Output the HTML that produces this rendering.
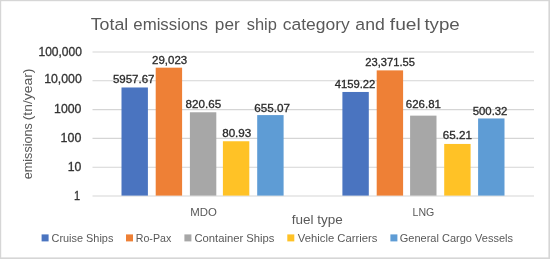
<!DOCTYPE html>
<html><head><meta charset="utf-8"><title>chart</title>
<style>
html,body{margin:0;padding:0;background:#fff;}
svg{display:block;font-family:"Liberation Sans",sans-serif;}
</style></head><body>
<svg width="550" height="259" viewBox="0 0 550 259">
<rect x="0" y="0" width="550" height="259" fill="#fff"/>
<rect x="0" y="0" width="550" height="1.2" fill="#d6d6d6"/>
<rect x="0" y="0" width="1.2" height="259" fill="#d6d6d6"/>
<rect x="548.4" y="0" width="1.6" height="259" fill="#d6d6d6"/>
<rect x="0" y="257.4" width="550" height="1.6" fill="#d6d6d6"/>

<line x1="92.5" x2="534" y1="52.00" y2="52.00" stroke="#d5d5d5" stroke-width="1.1"/>
<line x1="92.5" x2="534" y1="80.80" y2="80.80" stroke="#d5d5d5" stroke-width="1.1"/>
<line x1="92.5" x2="534" y1="109.60" y2="109.60" stroke="#d5d5d5" stroke-width="1.1"/>
<line x1="92.5" x2="534" y1="138.40" y2="138.40" stroke="#d5d5d5" stroke-width="1.1"/>
<line x1="92.5" x2="534" y1="167.20" y2="167.20" stroke="#d5d5d5" stroke-width="1.1"/>
<line x1="92.5" x2="534" y1="196.00" y2="196.00" stroke="#d5d5d5" stroke-width="1.1"/>
<rect x="121.50" y="87.48" width="26.4" height="108.12" fill="#4a74c0"/>
<rect x="155.70" y="67.67" width="26.4" height="127.93" fill="#ee8036"/>
<rect x="189.90" y="112.27" width="26.4" height="83.33" fill="#a7a7a7"/>
<rect x="222.90" y="141.25" width="26.4" height="54.35" fill="#ffc226"/>
<rect x="257.20" y="115.09" width="26.4" height="80.51" fill="#5e9cd5"/>
<rect x="342.40" y="91.97" width="26.4" height="103.63" fill="#4a74c0"/>
<rect x="376.70" y="70.38" width="26.4" height="125.22" fill="#ee8036"/>
<rect x="410.10" y="115.64" width="26.4" height="79.96" fill="#a7a7a7"/>
<rect x="444.20" y="143.95" width="26.4" height="51.65" fill="#ffc226"/>
<rect x="478.10" y="118.46" width="26.4" height="77.14" fill="#5e9cd5"/>
<text x="90.74" y="29.50" font-size="16.8" fill="#595959" textLength="37.56" lengthAdjust="spacingAndGlyphs">Total</text>
<text x="133.30" y="29.50" font-size="16.8" fill="#595959" textLength="74.69" lengthAdjust="spacingAndGlyphs">emissions</text>
<text x="214.88" y="29.50" font-size="16.8" fill="#595959" textLength="24.87" lengthAdjust="spacingAndGlyphs">per</text>
<text x="246.66" y="29.50" font-size="16.8" fill="#595959" textLength="30.21" lengthAdjust="spacingAndGlyphs">ship</text>
<text x="282.75" y="29.50" font-size="16.8" fill="#595959" textLength="67.04" lengthAdjust="spacingAndGlyphs">category</text>
<text x="355.38" y="29.50" font-size="16.8" fill="#595959" textLength="29.39" lengthAdjust="spacingAndGlyphs">and</text>
<text x="389.82" y="29.50" font-size="16.8" fill="#595959" textLength="30.96" lengthAdjust="spacingAndGlyphs">fuel</text>
<text x="424.42" y="29.50" font-size="16.8" fill="#595959" textLength="35.38" lengthAdjust="spacingAndGlyphs">type</text>
<text x="38.45" y="56.10" font-size="12.1" fill="#333333" stroke="#333333" stroke-width="0.3" textLength="43.51" lengthAdjust="spacingAndGlyphs">100,000</text>
<text x="44.16" y="82.60" font-size="12.1" fill="#333333" stroke="#333333" stroke-width="0.3" textLength="37.64" lengthAdjust="spacingAndGlyphs">10,000</text>
<text x="54.11" y="113.10" font-size="12.1" fill="#333333" stroke="#333333" stroke-width="0.3" textLength="27.34" lengthAdjust="spacingAndGlyphs">1000</text>
<text x="60.59" y="142.00" font-size="12.1" fill="#333333" stroke="#333333" stroke-width="0.3" textLength="20.77" lengthAdjust="spacingAndGlyphs">100</text>
<text x="67.78" y="171.10" font-size="12.1" fill="#333333" stroke="#333333" stroke-width="0.3" textLength="13.61" lengthAdjust="spacingAndGlyphs">10</text>
<text x="74.11" y="200.00" font-size="12.1" fill="#333333" stroke="#333333" stroke-width="0.3" textLength="6.11" lengthAdjust="spacingAndGlyphs">1</text>
<text x="112.92" y="83.10" font-size="11.4" fill="#2a2a2a" stroke="#2a2a2a" stroke-width="0.3" textLength="41.61" lengthAdjust="spacingAndGlyphs">5957.67</text>
<text x="152.10" y="63.50" font-size="11.4" fill="#2a2a2a" stroke="#2a2a2a" stroke-width="0.3" textLength="35.08" lengthAdjust="spacingAndGlyphs">29,023</text>
<text x="185.63" y="108.10" font-size="11.4" fill="#2a2a2a" stroke="#2a2a2a" stroke-width="0.3" textLength="35.59" lengthAdjust="spacingAndGlyphs">820.65</text>
<text x="222.15" y="136.60" font-size="11.4" fill="#2a2a2a" stroke="#2a2a2a" stroke-width="0.3" textLength="29.22" lengthAdjust="spacingAndGlyphs">80.93</text>
<text x="254.23" y="112.10" font-size="11.4" fill="#2a2a2a" stroke="#2a2a2a" stroke-width="0.3" textLength="35.67" lengthAdjust="spacingAndGlyphs">655.07</text>
<text x="334.64" y="88.20" font-size="11.4" fill="#2a2a2a" stroke="#2a2a2a" stroke-width="0.3" textLength="40.77" lengthAdjust="spacingAndGlyphs">4159.22</text>
<text x="365.32" y="66.10" font-size="11.4" fill="#2a2a2a" stroke="#2a2a2a" stroke-width="0.3" textLength="49.58" lengthAdjust="spacingAndGlyphs">23,371.55</text>
<text x="405.84" y="107.90" font-size="11.4" fill="#2a2a2a" stroke="#2a2a2a" stroke-width="0.3" textLength="35.08" lengthAdjust="spacingAndGlyphs">626.81</text>
<text x="442.83" y="138.60" font-size="11.4" fill="#2a2a2a" stroke="#2a2a2a" stroke-width="0.3" textLength="29.05" lengthAdjust="spacingAndGlyphs">65.21</text>
<text x="472.70" y="114.60" font-size="11.4" fill="#2a2a2a" stroke="#2a2a2a" stroke-width="0.3" textLength="34.76" lengthAdjust="spacingAndGlyphs">500.32</text>
<text x="190.34" y="216.20" font-size="11" fill="#595959" textLength="26.59" lengthAdjust="spacingAndGlyphs">MDO</text>
<text x="412.53" y="216.20" font-size="11" fill="#595959" textLength="21.76" lengthAdjust="spacingAndGlyphs">LNG</text>
<text x="291.81" y="223.70" font-size="12.8" fill="#595959" textLength="50.99" lengthAdjust="spacingAndGlyphs">fuel type</text>
<text x="51.50" y="241.50" font-size="11.5" fill="#595959" textLength="61.86" lengthAdjust="spacingAndGlyphs">Cruise Ships</text>
<text x="135.78" y="241.50" font-size="11.5" fill="#595959" textLength="35.48" lengthAdjust="spacingAndGlyphs">Ro-Pax</text>
<text x="194.40" y="241.50" font-size="11.5" fill="#595959" textLength="80.06" lengthAdjust="spacingAndGlyphs">Container Ships</text>
<text x="297.83" y="241.50" font-size="11.5" fill="#595959" textLength="79.60" lengthAdjust="spacingAndGlyphs">Vehicle Carriers</text>
<text x="399.72" y="241.50" font-size="11.5" fill="#595959" textLength="113.32" lengthAdjust="spacingAndGlyphs">General Cargo Vessels</text>
<text transform="translate(32,179.15) rotate(-90)" font-size="12.8" fill="#595959" textLength="55.87" lengthAdjust="spacingAndGlyphs">emissions</text>
<text transform="translate(32,120.26) rotate(-90)" font-size="12.8" fill="#595959" textLength="51.64" lengthAdjust="spacingAndGlyphs">(tn/year)</text>
<rect x="41.6" y="234.4" width="7" height="7" fill="#4a74c0"/>
<rect x="126" y="234.4" width="7" height="7" fill="#ee8036"/>
<rect x="184.4" y="234.4" width="7" height="7" fill="#a7a7a7"/>
<rect x="287.3" y="234.4" width="7" height="7" fill="#ffc226"/>
<rect x="390.4" y="234.4" width="7" height="7" fill="#5e9cd5"/>
</svg></body></html>
